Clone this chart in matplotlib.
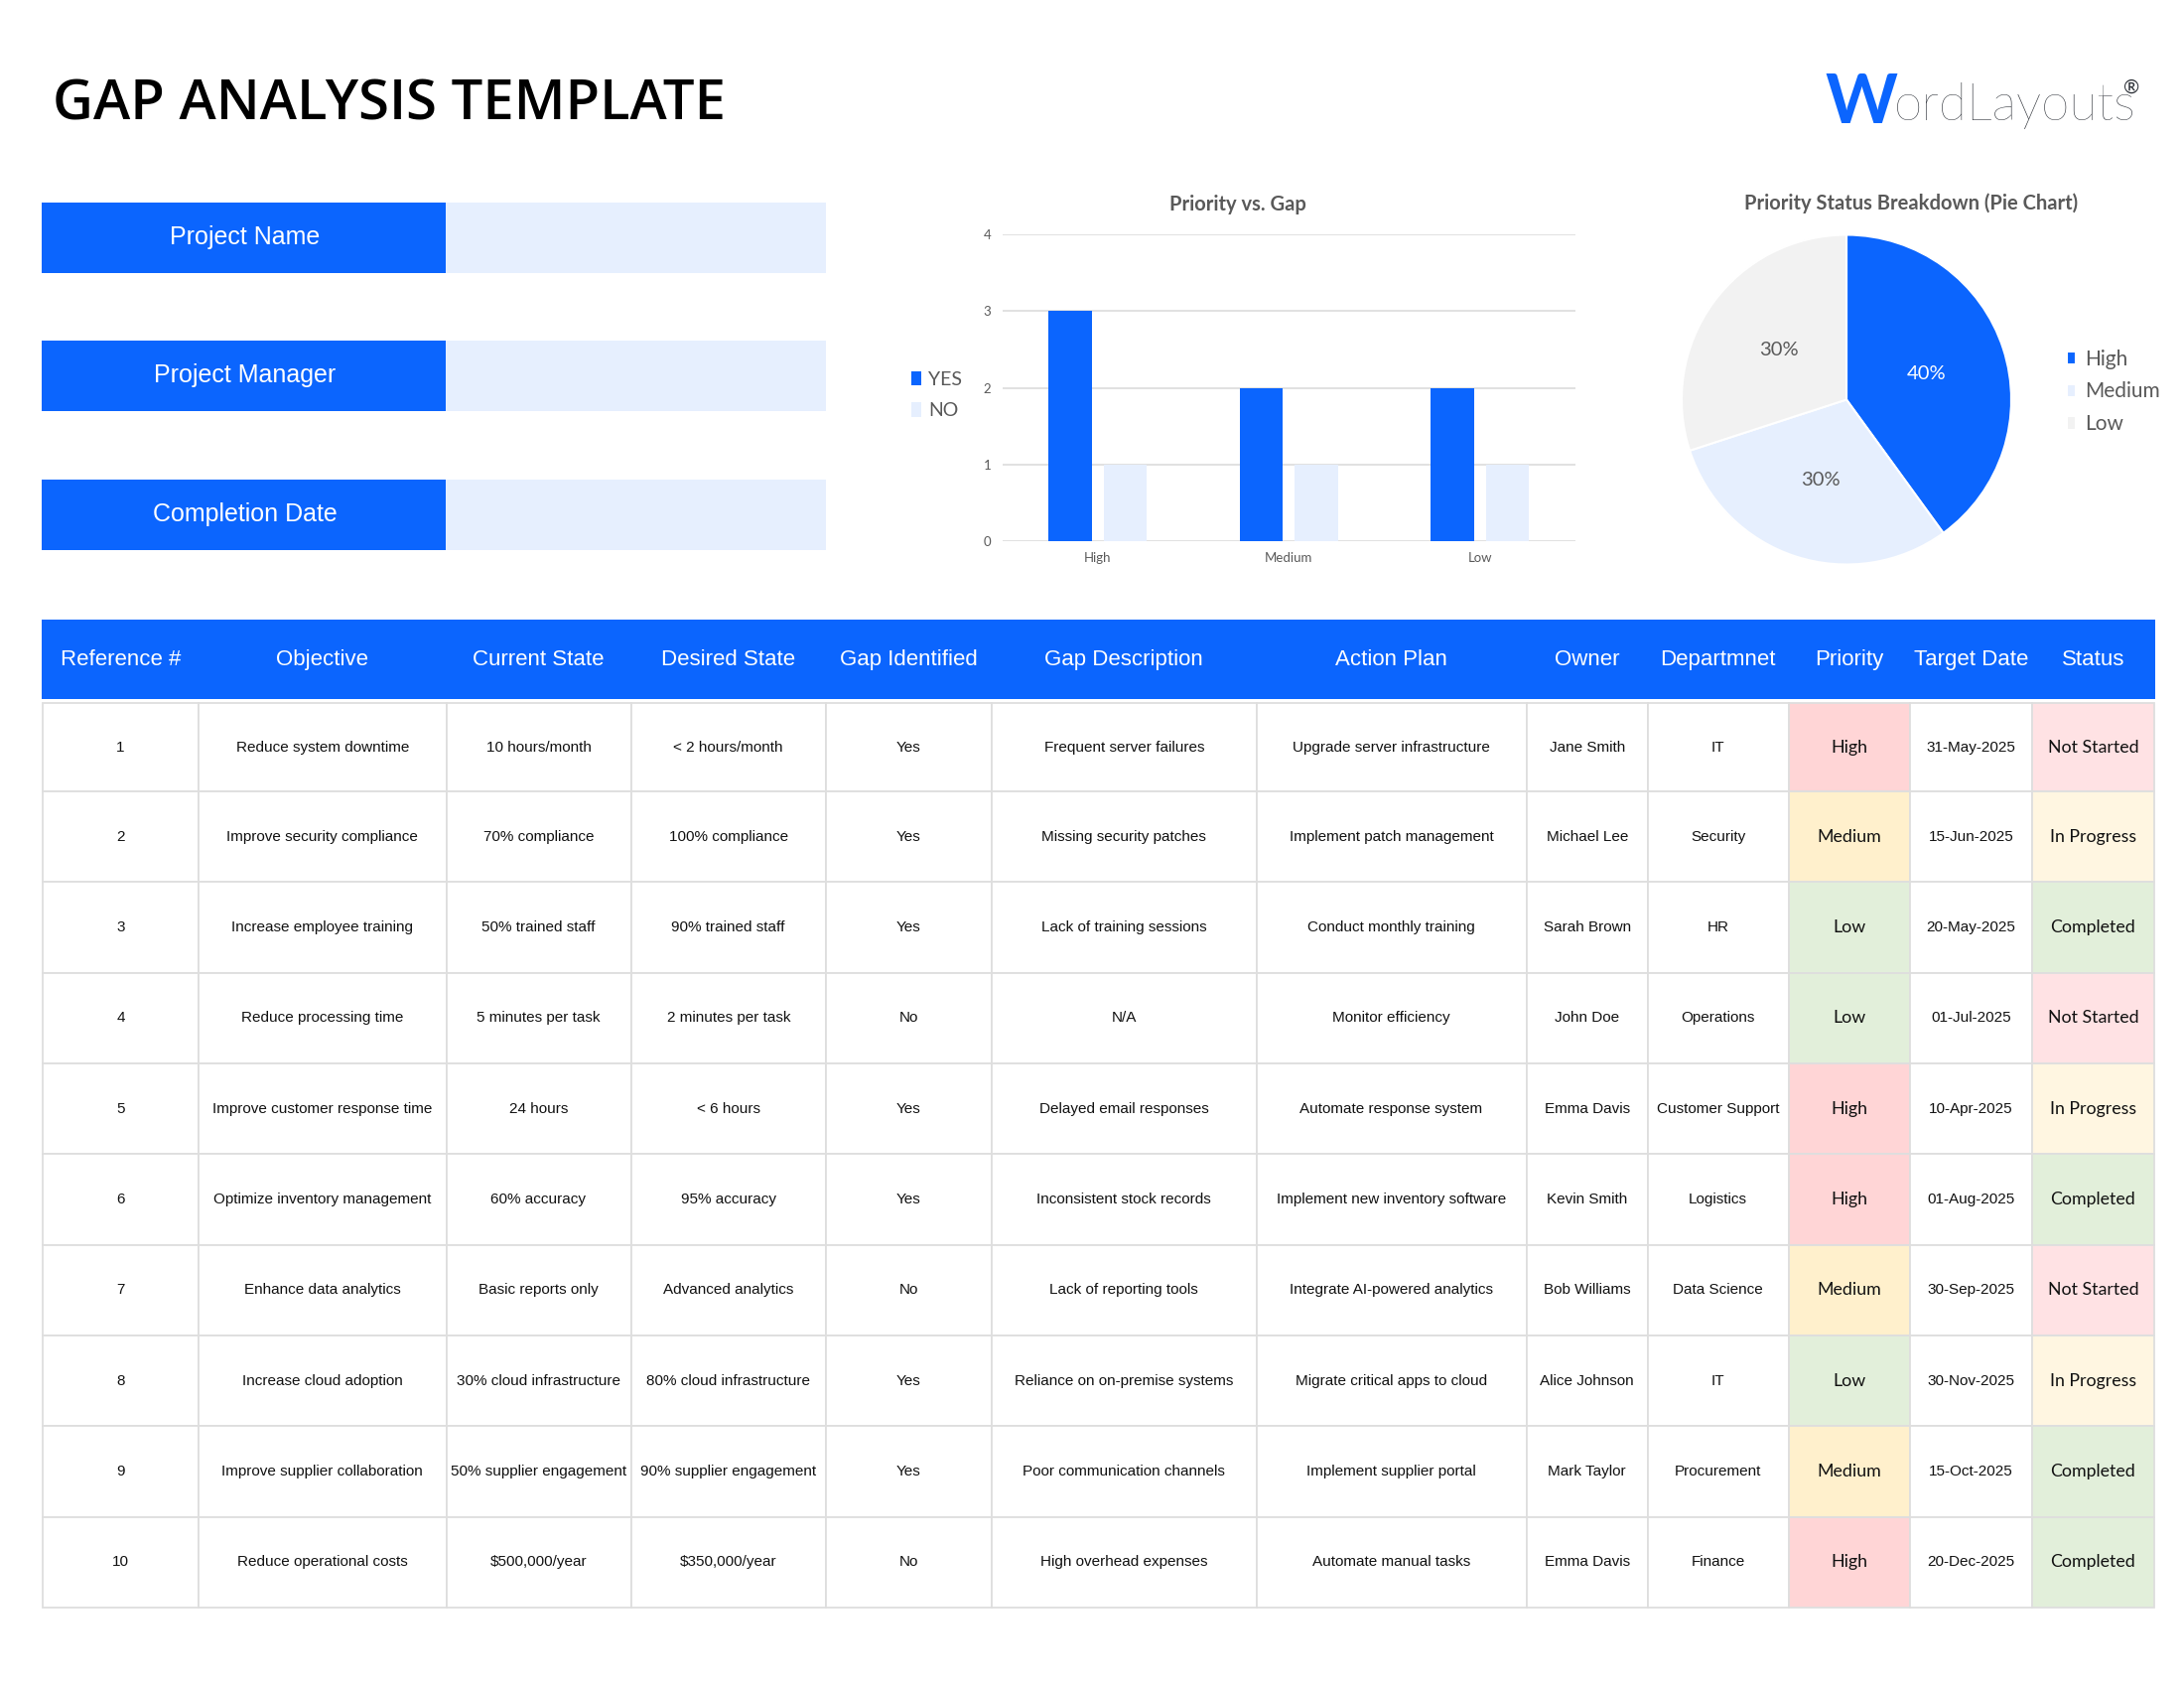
import matplotlib
matplotlib.use("Agg")
import matplotlib.pyplot as plt
from matplotlib.patches import Rectangle
from matplotlib.font_manager import findSystemFonts, fontManager

# ---- data ----
title = "GAP ANALYSIS TEMPLATE"
info_labels = ["Project Name", "Project Manager", "Completion Date"]

bar_categories = ["High", "Medium", "Low"]
bar_yes = [3, 2, 2]
bar_no = [1, 1, 1]
bar_ticks = [0, 1, 2, 3, 4]

pie_labels = ["High", "Medium", "Low"]
pie_values = [4, 3, 3]

headers = ["Reference #", "Objective", "Current State", "Desired State", "Gap Identified",
           "Gap Description", "Action Plan", "Owner", "Departmnet", "Priority", "Target Date", "Status"]
refs = ["1", "2", "3", "4", "5", "6", "7", "8", "9", "10"]
objectives = ["Reduce system downtime", "Improve security compliance", "Increase employee training",
              "Reduce processing time", "Improve customer response time", "Optimize inventory management",
              "Enhance data analytics", "Increase cloud adoption", "Improve supplier collaboration",
              "Reduce operational costs"]
current = ["10 hours/month", "70% compliance", "50% trained staff", "5 minutes per task", "24 hours",
           "60% accuracy", "Basic reports only", "30% cloud infrastructure", "50% supplier engagement",
           "$500,000/year"]
desired = ["< 2 hours/month", "100% compliance", "90% trained staff", "2 minutes per task", "< 6 hours",
           "95% accuracy", "Advanced analytics", "80% cloud infrastructure", "90% supplier engagement",
           "$350,000/year"]
gap_id = ["Yes", "Yes", "Yes", "No", "Yes", "Yes", "No", "Yes", "Yes", "No"]
gap_desc = ["Frequent server failures", "Missing security patches", "Lack of training sessions", "N/A",
            "Delayed email responses", "Inconsistent stock records", "Lack of reporting tools",
            "Reliance on on-premise systems", "Poor communication channels", "High overhead expenses"]
action = ["Upgrade server infrastructure", "Implement patch management", "Conduct monthly training",
          "Monitor efficiency", "Automate response system", "Implement new inventory software",
          "Integrate AI-powered analytics", "Migrate critical apps to cloud", "Implement supplier portal",
          "Automate manual tasks"]
owner = ["Jane Smith", "Michael Lee", "Sarah Brown", "John Doe", "Emma Davis", "Kevin Smith",
         "Bob Williams", "Alice Johnson", "Mark Taylor", "Emma Davis"]
dept = ["IT", "Security", "HR", "Operations", "Customer Support", "Logistics", "Data Science", "IT",
        "Procurement", "Finance"]
priority = ["High", "Medium", "Low", "Low", "High", "High", "Medium", "Low", "Medium", "High"]
target = ["31-May-2025", "15-Jun-2025", "20-May-2025", "01-Jul-2025", "10-Apr-2025", "01-Aug-2025",
          "30-Sep-2025", "30-Nov-2025", "15-Oct-2025", "20-Dec-2025"]
status = ["Not Started", "In Progress", "Completed", "Not Started", "In Progress", "Completed",
          "Not Started", "In Progress", "Completed", "Completed"]

# ---- style ----
BLUE = "#0B65FE"
LIGHT = "#E6EFFE"
PALE = "#F2F2F2"
LINE = "#DEDEDE"
GREY = "#595959"
prio_col = {"High": "#FFD5D6", "Medium": "#FFF0CC", "Low": "#E2EFDA"}
stat_col = {"Not Started": "#FFE2E4", "In Progress": "#FFF6E1", "Completed": "#E2EFDA"}
W, H = 2200, 1700
col_edges = [43, 200, 449.5, 635.5, 832, 999, 1265.5, 1537.5, 1660, 1801.5, 1924, 2047, 2170]
row_top, row_h = 705.7, 91.33

fig = plt.figure(figsize=(22, 17), dpi=100, facecolor="white")
bg = fig.add_axes([0, 0, 1, 1])
bg.set_xlim(0, W); bg.set_ylim(H, 0); bg.axis("off")

def box(x0, y0, x1, y1, fc, ec="none", lw=0, z=1):
    bg.add_patch(Rectangle((x0, y0), x1 - x0, y1 - y0, facecolor=fc, edgecolor=ec, linewidth=lw, zorder=z))

def sub_axes(x0, y0, x1, y1):
    return fig.add_axes([x0 / W, 1 - y1 / H, (x1 - x0) / W, (y1 - y0) / H])

bg.text(53, 106, title, fontfamily="Open Sans", fontweight="semibold", fontsize=40.5, va="center", ha="left", color="black")

# logo
bg.text(1838, 124, "W", fontfamily="Lato", fontweight="bold", fontsize=50, color=BLUE, ha="left", va="baseline")
bg.text(1908, 121, "ordLayouts", fontfamily="Lato", fontweight="light", fontsize=37, color="#2B2F36", ha="left", va="baseline")
bg.text(2139, 88, "®", fontfamily="Lato", fontsize=14, color="#2B2F36", ha="left", va="center")

# info blocks
for label, y0 in zip(info_labels, [204, 343, 483]):
    box(42, y0, 449, y0 + 70.5, BLUE)
    box(449, y0, 832, y0 + 70.5, LIGHT)
    bg.text(247, y0 + 35, label, fontfamily="Liberation Sans", fontsize=18, color="white", ha="center", va="center")

# bar chart
ax = sub_axes(1009.5, 236, 1587, 545.3)
xs = range(len(bar_categories))
yes_bars = ax.bar([x - 0.143 for x in xs], bar_yes, width=0.226, color=BLUE, label="YES", zorder=3)
no_bars = ax.bar([x + 0.143 for x in xs], bar_no, width=0.226, color=LIGHT, label="NO", zorder=3)
ax.set_xlim(-0.5, 2.5); ax.set_ylim(0, 4)
ax.set_yticks(bar_ticks); ax.set_xticks(list(xs), bar_categories)
ax.grid(axis="y", color="#D9D9D9", linewidth=1.1, zorder=0)
ax.tick_params(length=0, labelsize=9.5, labelcolor=GREY, pad=8)
for lab in ax.get_xticklabels() + ax.get_yticklabels():
    lab.set_fontfamily("Lato")
for s in ax.spines.values():
    s.set_visible(False)
ax.set_facecolor("none")
bg.text(1247, 206, "Priority vs. Gap", fontfamily="Lato", fontweight="bold", fontsize=14.5, color=GREY, ha="center", va="center")
fig.legend(handles=[yes_bars, no_bars], labels=["YES", "NO"], loc="center left",
           bbox_to_anchor=(900 / W, 1 - 398 / H), frameon=False, fontsize=14, labelcolor=GREY,
           handlelength=0.55, handleheight=0.75, handletextpad=0.35, labelspacing=0.75,
           prop={"family": "Lato", "size": 14})

# pie chart
pa = sub_axes(1860 - 166, 402.5 - 166, 1860 + 166, 402.5 + 166)
wedges, _, autotexts = pa.pie(pie_values, colors=[BLUE, LIGHT, PALE], startangle=90, counterclock=False,
                              radius=1, autopct="%d%%", pctdistance=0.51,
                              wedgeprops={"edgecolor": "white", "linewidth": 1.5},
                              textprops={"fontfamily": "Lato", "fontsize": 14.5, "color": GREY})
autotexts[0].set_color("white")
pa.set_xlim(-1, 1); pa.set_ylim(-1, 1)
bg.text(1925, 205, "Priority Status Breakdown (Pie Chart)", fontfamily="Lato", fontweight="bold", fontsize=14.5,
        color=GREY, ha="center", va="center")
fig.legend(handles=wedges, labels=pie_labels, loc="center left", bbox_to_anchor=(2063 / W, 1 - 394.5 / H),
           frameon=False, labelcolor=GREY, handlelength=0.42, handleheight=0.6, handletextpad=0.45,
           labelspacing=0.62, prop={"family": "Lato", "size": 15})

# table
box(42, 624.3, 2170.5, 703.7, BLUE)
for i, h in enumerate(headers):
    cx = (col_edges[i] + col_edges[i + 1]) / 2
    bg.text(cx, 664.3, h, fontfamily="Liberation Sans", fontsize=16, color="white", ha="center", va="center", zorder=4)

columns = [refs, objectives, current, desired, gap_id, gap_desc, action, owner, dept, priority, target, status]
for r in range(len(refs)):
    y0 = row_top + r * row_h
    y1 = y0 + row_h
    top = max(y0, 708)
    for c, col in enumerate(columns):
        x0, x1 = col_edges[c], col_edges[c + 1]
        fc = "white"
        fam, size = "Liberation Sans", 11
        if c == 9:
            fc = prio_col[col[r]]; fam, size = "Lato", 12.8
        elif c == 11:
            fc = stat_col[col[r]]; fam, size = "Lato", 12.8
        box(x0, top, x1, y1, fc, ec=LINE, lw=1.3, z=2)
        bg.text((x0 + x1) / 2, (top + y1) / 2, col[r], fontfamily=fam, fontsize=size, color="#111111",
                ha="center", va="center", zorder=4)

fig.savefig("out.png", dpi=100, facecolor="white")
